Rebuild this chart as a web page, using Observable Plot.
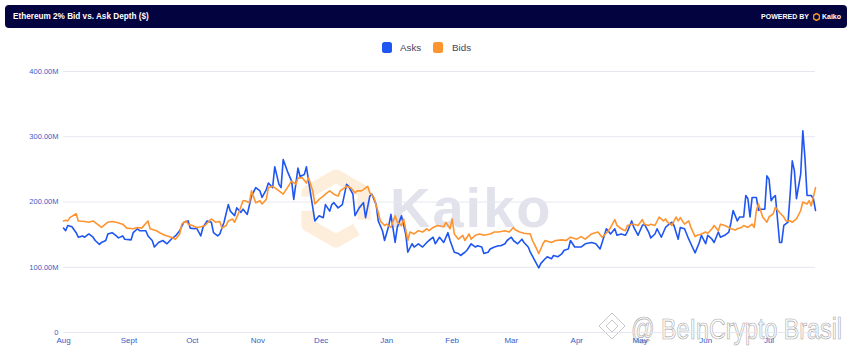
<!DOCTYPE html>
<html><head><meta charset="utf-8">
<script src="https://cdn.jsdelivr.net/npm/d3@7"></script>
<script src="https://cdn.jsdelivr.net/npm/@observablehq/plot@0.6"></script>
<style>
html,body{margin:0;padding:0;background:#fff;width:850px;height:352px;overflow:hidden;font-family:"Liberation Sans",Arial,sans-serif;}
#header{position:absolute;left:5px;top:5px;width:842px;height:23px;background:#03033f;border-radius:4px;}
#title{position:absolute;left:8px;top:0;line-height:23px;color:#fff;font-weight:bold;font-size:8.2px;}
#powered{position:absolute;right:6px;top:0;height:23px;color:#fff;font-weight:bold;font-size:7px;display:flex;align-items:center;}
#powered .hex{width:7px;height:8px;margin:0 2px 0 4px;}
.sw{position:absolute;top:42px;width:10px;height:11px;border-radius:2.5px;}
.lg{position:absolute;top:41px;line-height:14px;font-size:9.8px;color:#45455f;}
#bg{position:absolute;left:0;top:0;z-index:0;}
#chart{position:absolute;left:0;top:60px;z-index:1;}
</style></head>
<body>
<svg id="bg" width="850" height="352">
  <g fill="none" stroke="#fdeedb" stroke-width="13" stroke-linejoin="round">
    <polygon points="336,176 364,192 364,225 336,241 308,225 308,192" stroke-dasharray="60 14 70 14"/>
  </g>
  <text x="390" y="227" font-size="56" font-weight="bold" fill="#e2e2ec" letter-spacing="2" font-family="Liberation Sans, Arial, sans-serif">Kaiko</text>
  <g fill="none" stroke="#b9b9b9" stroke-width="0.8">
    <polygon points="612,313 625,326 612,339 599,326"/>
    <polygon points="612,320 618,326 612,332 606,326"/>
  </g>
  <text x="631" y="339" font-size="29" fill="#fff" stroke="#a8a8a8" stroke-width="0.7" textLength="211" lengthAdjust="spacingAndGlyphs" font-family="Liberation Sans, Arial, sans-serif">@ BeInCrypto Brasil</text>
</svg>
<div id="header">
  <div id="title">Ethereum 2% Bid vs. Ask Depth ($)</div>
  <div id="powered"><span>POWERED BY</span>
    <svg class="hex" viewBox="0 0 14 16"><polygon points="7,1 13,4.5 13,11.5 7,15 1,11.5 1,4.5" fill="none" stroke="#f7931e" stroke-width="3"/></svg>
    <span>Kaiko</span></div>
</div>
<div class="sw" style="left:382px;background:#1f56f2"></div>
<div class="lg" style="left:400px">Asks</div>
<div class="sw" style="left:433px;background:#fd942f"></div>
<div class="lg" style="left:452px">Bids</div>
<div id="chart"></div>
<script>
// Dates: days after 2022-08-01; values in millions of USD
const startDate = "2022-08-01";
const asks = [[0,160],[1,156],[2,164],[4,162],[6,153],[7,146],[9,148],[10,146],[12,151],[14,146],[15,141],[17,135],[18,138],[20,141],[21,151],[23,153],[25,148],[26,145],[28,148],[29,143],[32,142],[33,153],[35,159],[36,156],[39,156],[40,148],[42,141],[43,131],[45,138],[47,141],[49,136],[51,143],[53,148],[55,156],[57,169],[59,171],[60,160],[62,159],[63,160],[65,148],[66,161],[68,171],[70,169],[71,153],[73,148],[74,151],[76,169],[78,196],[79,186],[81,179],[82,191],[84,184],[85,189],[87,181],[89,209],[91,222],[93,217],[94,207],[96,219],[97,229],[99,222],[100,254],[102,227],[103,222],[104,265],[106,247],[108,232],[109,204],[111,252],[112,239],[114,242],[115,254],[117,212],[119,171],[121,179],[123,176],[124,196],[126,186],[127,196],[128,199],[130,191],[132,196],[134,227],[135,224],[137,212],[138,179],[140,191],[142,199],[143,176],[145,209],[146,212],[148,196],[149,171],[151,156],[152,141],[154,164],[155,181],[157,138],[158,161],[160,179],[162,151],[163,123],[165,136],[166,131],[168,136],[170,131],[172,138],[173,141],[175,146],[176,136],[178,146],[180,138],[182,153],[183,141],[185,123],[187,121],[188,118],[190,123],[191,126],[193,136],[195,131],[196,133],[198,131],[199,121],[201,123],[202,128],[204,131],[206,133],[207,133],[209,136],[210,141],[212,146],[213,141],[215,136],[217,143],[218,138],[220,131],[221,123],[223,111],[225,99],[226,106],[228,113],[229,116],[231,113],[232,118],[234,116],[236,121],[237,126],[239,128],[240,141],[242,131],[244,131],[245,131],[247,136],[250,138],[252,136],[254,128],[255,138],[257,159],[259,151],[261,159],[262,149],[264,151],[266,149],[267,155],[269,171],[270,161],[272,149],[274,164],[275,166],[277,154],[278,145],[280,151],[281,159],[283,146],[285,161],[286,164],[288,169],[289,164],[291,143],[292,161],[294,159],[296,143],[297,136],[299,122],[301,138],[302,149],[304,136],[305,149],[307,143],[308,138],[310,154],[311,146],[313,149],[315,154],[316,169],[317,187],[319,171],[320,177],[322,177],[323,210],[324,205],[325,177],[326,207],[328,207],[329,187],[330,189],[332,189],[333,240],[334,235],[335,202],[336,207],[337,210],[339,138],[340,138],[341,164],[343,169],[344,212],[345,263],[346,248],[347,205],[349,243],[350,309],[351,268],[352,210],[354,210],[355,205],[356,187]];
const bids = [[0,171],[1,172],[2,171],[3,176],[6,182],[7,171],[10,170],[12,169],[14,171],[16,166],[18,161],[21,169],[23,170],[25,169],[28,166],[30,160],[33,159],[35,161],[37,160],[40,171],[41,159],[44,156],[46,152],[48,149],[51,146],[53,143],[55,151],[56,166],[58,171],[59,166],[61,164],[63,161],[65,162],[67,164],[69,171],[70,174],[72,169],[74,170],[75,160],[77,164],[78,171],[80,174],[81,169],[83,184],[85,202],[86,202],[88,199],[89,217],[91,199],[93,202],[94,197],[96,204],[97,222],[99,224],[100,222],[102,217],[104,212],[105,217],[107,227],[108,232],[110,227],[111,237],[113,237],[115,229],[116,237],[118,217],[119,197],[121,204],[123,209],[124,212],[126,217],[128,212],[130,209],[131,217],[134,224],[136,222],[138,214],[139,217],[141,217],[142,219],[144,224],[145,214],[147,207],[149,184],[150,171],[152,164],[153,166],[155,161],[157,179],[158,169],[160,164],[161,174],[163,141],[164,154],[166,151],[168,156],[170,154],[172,159],[173,156],[175,161],[177,164],[180,162],[181,169],[183,159],[184,174],[185,151],[187,143],[189,149],[190,141],[192,151],[193,143],[195,149],[197,151],[199,149],[202,151],[204,154],[206,154],[209,156],[211,154],[213,161],[214,157],[216,154],[218,152],[221,151],[222,141],[224,128],[225,121],[227,136],[228,141],[231,138],[233,141],[236,142],[238,141],[240,146],[243,143],[245,147],[247,143],[250,151],[251,152],[253,154],[255,146],[256,149],[258,156],[259,161],[261,173],[262,164],[264,159],[266,156],[267,164],[269,166],[270,166],[272,164],[274,173],[275,166],[277,164],[278,166],[280,164],[282,177],[284,171],[285,174],[286,169],[288,164],[290,177],[291,171],[292,176],[294,166],[296,171],[297,161],[299,147],[300,149],[302,151],[304,154],[305,152],[307,159],[308,164],[310,156],[311,166],[313,164],[315,161],[316,159],[318,157],[319,159],[321,161],[322,164],[324,161],[326,166],[327,161],[328,187],[329,197],[330,187],[331,177],[333,169],[334,177],[336,182],[337,192],[339,184],[341,177],[342,171],[344,171],[345,169],[347,174],[349,187],[350,200],[352,197],[353,202],[354,194],[356,222]];
const monthLabels = ["Aug","Sept","Oct","Nov","Dec","Jan","Feb","Mar","Apr","May","Jun","Jul"];
const yTicks = [0,100,200,300,400];
const seriesColors = {Asks:"#1f56f2", Bids:"#fd942f"};

const base = new Date(startDate + "T00:00:00Z");
const toRows = (arr, name) => arr.map(([d,v]) => ({date: d3.utcDay.offset(base, d), value: v, series: name}));
const askRows = toRows(asks, "Asks");
const bidRows = toRows(bids, "Bids");
const monthTicks = d3.utcMonth.range(base, d3.utcMonth.offset(base, 12));
const labelOf = new Map(monthTicks.map((t,i) => [+t, monthLabels[i]]));
const endDate = d3.max(askRows, d => d.date);

const chart = Plot.plot({
  width: 850, height: 292,
  marginTop: 11, marginBottom: 20, marginLeft: 63, marginRight: 35,
  style: {background: "transparent", color: "#3b5cc4", fontFamily: "Liberation Sans, Arial, sans-serif"},
  x: {type: "utc", domain: [base, endDate]},
  y: {domain: [0, 400]},
  marks: [
    Plot.gridY(yTicks, {stroke: "#e6e6f0", strokeOpacity: 1, strokeWidth: 1}),
    Plot.axisY(yTicks, {tickSize: 0, tickPadding: 5, fontSize: 7.5, label: null,
      tickFormat: d => d === 0 ? "0" : d.toFixed(2) + "M"}),
    Plot.axisX(monthTicks, {tickSize: 0, tickPadding: 5, fontSize: 8, label: null,
      tickFormat: d => labelOf.get(+d)}),
    Plot.line(askRows, {x: "date", y: "value", stroke: seriesColors.Asks, strokeWidth: 1.6}),
    Plot.line(bidRows, {x: "date", y: "value", stroke: seriesColors.Bids, strokeWidth: 1.6})
  ]
});
document.getElementById("chart").appendChild(chart);
</script>
</body></html>
